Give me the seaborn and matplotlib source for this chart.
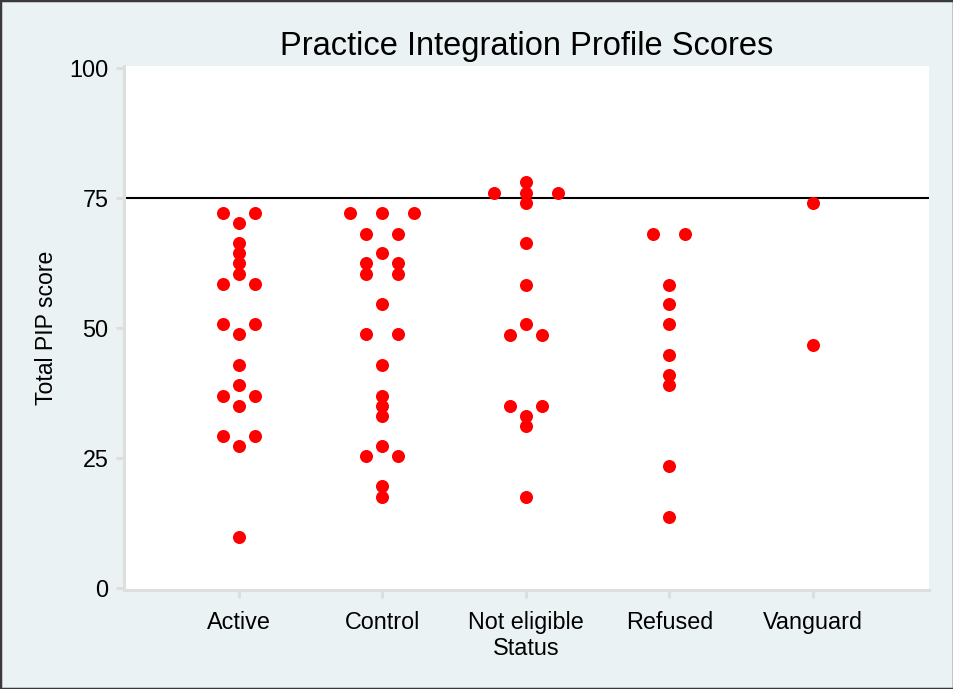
import numpy as np
import pandas as pd
import seaborn as sns
import matplotlib.pyplot as plt
from matplotlib.patches import Rectangle

# PIP scores, one list per practice status
statuses = ["Active", "Control", "Not eligible", "Refused", "Vanguard"]
active = [72.2, 72.2, 70.3, 66.4, 64.4, 62.5, 60.4, 58.5, 58.5, 50.8, 50.8,
          48.9, 43.0, 39.0, 37.0, 37.0, 35.0, 29.3, 29.3, 27.4, 9.8]
control = [72.2, 72.2, 72.2, 68.2, 68.2, 64.4, 62.5, 62.5, 60.4, 60.4, 54.6,
           48.9, 48.9, 43.0, 37.0, 35.0, 33.1, 27.3, 25.4, 25.4, 19.6, 17.6]
not_eligible = [78.1, 76.0, 76.0, 76.0, 74.1, 66.3, 58.4, 50.8, 48.7, 48.7,
                35.1, 35.1, 33.2, 31.3, 17.6]
refused = [68.2, 68.2, 58.4, 54.6, 50.8, 44.8, 41.0, 39.0, 23.5, 13.7]
vanguard = [74.1, 46.8]
threshold = 75

sns.set_style("white")
plt.rcParams['font.family'] = ['Liberation Sans', 'DejaVu Sans']
plt.rcParams['text.color'] = 'black'
plt.rcParams['axes.labelcolor'] = 'black'

df = pd.concat([pd.DataFrame({"status": s, "score": v})
                for s, v in zip(statuses, [active, control, not_eligible, refused, vanguard])],
               ignore_index=True)

# dotplot style: equal scores sit side by side around the category centre
step = 0.223
df["code"] = df["status"].map({s: i for i, s in enumerate(statuses)})
grp = df.groupby(["status", "score"])
df["k"] = grp.cumcount()
df["n"] = grp["score"].transform("size")
df["xpos"] = df["code"] + (df["k"] - (df["n"] - 1) / 2) * step

bg = "#EAF2F3"
axcol = "#DEDEDE"

fig = plt.figure(figsize=(9.54, 6.89), dpi=100, facecolor=bg)
ax = fig.add_axes([124/954, 1 - 590/689, (929 - 124)/954, (590 - 66)/689])
ax.set_facecolor("white")

sns.scatterplot(data=df, x="xpos", y="score", color="#FF0000", s=88,
                linewidth=0, ax=ax, zorder=3)
ax.axhline(threshold, color="black", lw=1.5, zorder=2)

ax.set_xlim(-0.80, 4.81)
ax.set_ylim(-0.3, 100.4)
ax.set_xticks(range(len(statuses)))
ax.set_xticklabels(statuses)
ax.set_yticks([0, 25, 50, 75, 100])

for side in ["top", "right"]:
    ax.spines[side].set_visible(False)
for side in ["left", "bottom"]:
    ax.spines[side].set_color(axcol)
    ax.spines[side].set_linewidth(2.2)
ax.tick_params(axis="both", which="major", direction="out", length=6, width=2.2,
               color=axcol, labelsize=16.8, labelcolor="black", pad=5)
ax.tick_params(axis="x", pad=9)
ax.tick_params(left=True, bottom=True)

ax.set_title("Practice Integration Profile Scores", fontsize=23.5, pad=8, color="black")
ax.set_ylabel("Total PIP score", fontsize=16.6)
ax.set_xlabel("Status", fontsize=16.8)
ax.yaxis.set_label_coords(-0.082, 0.5)
ax.xaxis.set_label_coords(0.5, -0.089)

fig.patches.append(Rectangle((0, 0), 1, 1, transform=fig.transFigure, fill=False,
                             edgecolor="#3a3a3a", lw=2.5))

fig.savefig("out.png", dpi=100, facecolor=bg)
